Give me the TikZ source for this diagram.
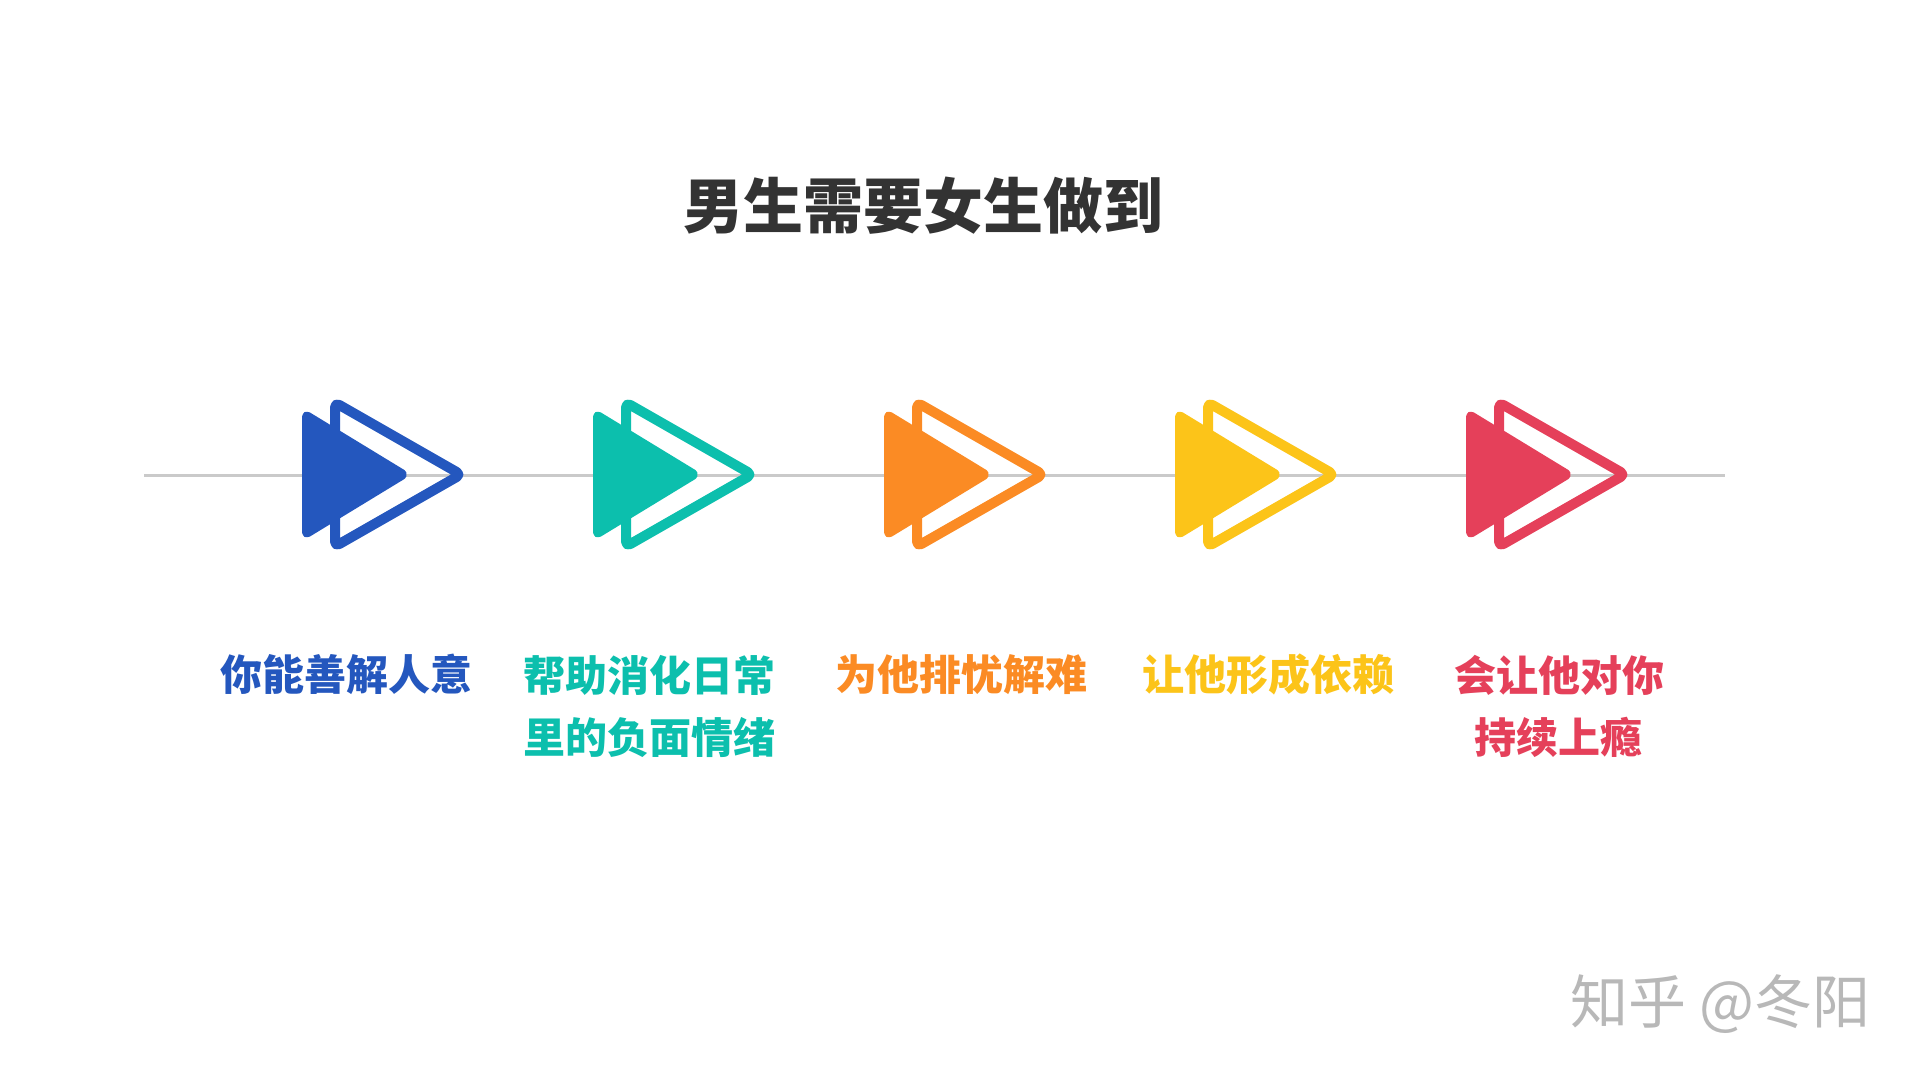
\documentclass[tikz,border=0pt]{standalone}
\usepackage{fontspec}
\newfontfamily\cjk{Noto Sans CJK SC}
\definecolor{cblue}{HTML}{2457BE}
\definecolor{cteal}{HTML}{0CBFAD}
\definecolor{corange}{HTML}{FB8B24}
\definecolor{cyellow}{HTML}{FCC419}
\definecolor{cred}{HTML}{E5405A}
\definecolor{ctitle}{HTML}{333333}
\definecolor{cline}{HTML}{CACACA}
\definecolor{cmark}{HTML}{B8B8B8}
\begin{document}
\begin{tikzpicture}[x=1pt,y=-1pt,
  lbl/.style={anchor=base, inner sep=0pt, font={\cjk\bfseries\fontsize{42pt}{50pt}\selectfont}},
  ttl/.style={anchor=base, inner sep=0pt, text=ctitle, font={\cjk\bfseries\fontsize{60pt}{70pt}\selectfont}},
  wmark/.style={anchor=base west, inner sep=0pt, text=cmark, font={\cjk\fontsize{58pt}{60pt}\selectfont}},
  axisline/.style={draw=cline, line width=3pt},
  outlinetri/.style={line width=10pt, line join=round, rounded corners=5pt},
  solidtri/.style={line width=6pt, line join=round, rounded corners=4pt}]
\useasboundingbox (0,0) rectangle (1920,1080);
\fill[white] (0,0) rectangle (1920,1080);
% axis line
\coordinate (lstart) at (144,475);
\coordinate (lend) at (1725,475);
\draw[axisline] (lstart) -- (lend);
% arrows
\foreach \i/\c in {0/cblue,1/cteal,2/corange,3/cyellow,4/cred}{
  \pgfmathsetmacro{\xo}{303+291*\i}
  \draw[outlinetri, draw=\c] ({\xo+32},402.5) -- ({\xo+158},474.5) -- ({\xo+32},546.5) -- cycle;
  \filldraw[solidtri, draw=\c, fill=\c] ({\xo+2},413) -- ({\xo+103},474.5) -- ({\xo+2},536) -- cycle;
}
% title
\node[ttl] (title) at (923,228) {男生需要女生做到};
% labels
\node[lbl, text=cblue] (lab1) at (346,690) {你能善解人意};
\node[lbl, text=cteal] (lab2a) at (649,691) {帮助消化日常};
\node[lbl, text=cteal] (lab2b) at (649,753) {里的负面情绪};
\node[lbl, text=corange] (lab3) at (961,690) {为他排忧解难};
\node[lbl, text=cyellow] (lab4) at (1268,690) {让他形成依赖};
\node[lbl, text=cred] (lab5a) at (1559,691) {会让他对你};
\node[lbl, text=cred] (lab5b) at (1558,753) {持续上瘾};
% watermark
\node[wmark] (mark) at (1570,1023) {知乎 @冬阳};
\end{tikzpicture}
\end{document}
